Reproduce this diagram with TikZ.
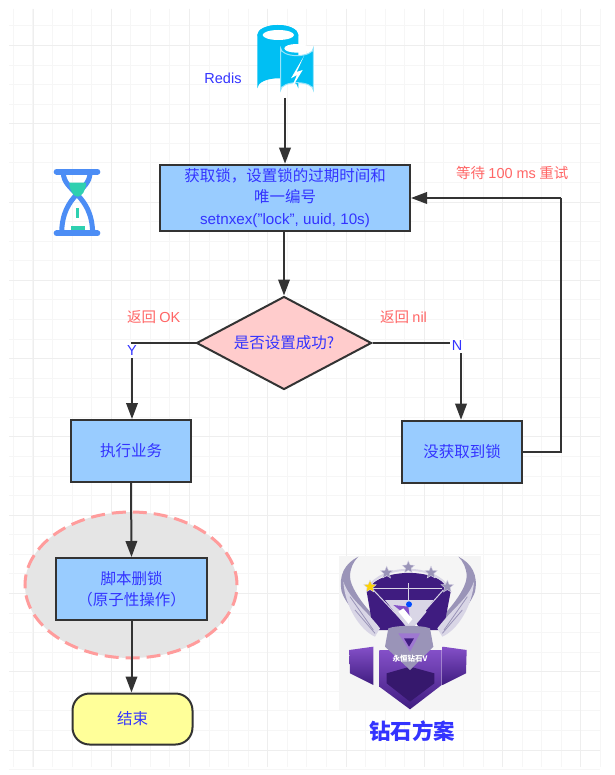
\documentclass[tikz,border=0pt]{standalone}
\usepackage{fontspec}
\setmainfont{Liberation Sans}
\newfontfamily\cjk{Noto Sans CJK SC}
\usetikzlibrary{arrows.meta,shapes.geometric}
\definecolor{gridminor}{HTML}{F6F6F6}
\definecolor{gridmajor}{HTML}{EEEEEE}
\definecolor{edge}{HTML}{333333}
\definecolor{boxblue}{HTML}{99CCFF}
\definecolor{txtblue}{HTML}{3333FF}
\definecolor{txtred}{HTML}{FF6666}
\definecolor{pinkfill}{HTML}{FFCCCC}
\definecolor{yellowfill}{HTML}{FFFF99}
\definecolor{redisblue}{HTML}{00BFF3}
\definecolor{glassblue}{HTML}{4C8DF5}
\definecolor{glassteal}{HTML}{2ED0B0}
\definecolor{medalbg}{HTML}{F5F5F5}
\definecolor{purpleA}{HTML}{8450C8}
\definecolor{purpleB}{HTML}{3F1C80}
\definecolor{silverA}{HTML}{D9D6E6}
\definecolor{silverB}{HTML}{9A94B8}
\tikzset{
  box/.style={draw=edge,line width=2pt,fill=boxblue,text=txtblue,align=center,inner sep=0pt,font=\fontsize{15.5}{21.5}\selectfont\cjk},
  conn/.style={draw=edge,line width=2pt},
  arr/.style={conn,-{Triangle[length=16pt,width=11.5pt,fill=edge]}},
  lab/.style={text=txtblue,font=\fontsize{14.5}{17}\selectfont,inner sep=0pt},
  redlab/.style={text=txtred,font=\fontsize{14.5}{17}\selectfont\cjk,inner sep=0pt,anchor=west},
}
\begin{document}
\begin{tikzpicture}[x=1pt,y=-1pt]
\useasboundingbox (0,0) rectangle (614,775);
\fill[white] (0,0) rectangle (614,775);
% grid
\foreach \i in {0,...,30}{
  \pgfmathsetmacro{\gx}{13.4+19.57*\i}
  \draw[gridminor,line width=1pt] (\gx,9) -- (\gx,767);
}
\foreach \i in {0,...,38}{
  \pgfmathsetmacro{\gy}{26+19.57*\i}
  \draw[gridminor,line width=1pt] (9,\gy) -- (600,\gy);
}
\foreach \i in {0,...,7}{
  \pgfmathsetmacro{\gx}{33+78.28*\i}
  \draw[gridmajor,line width=1pt] (\gx,9) -- (\gx,767);
}
\foreach \i in {0,...,9}{
  \pgfmathsetmacro{\gy}{45.5+78.28*\i}
  \draw[gridmajor,line width=1pt] (9,\gy) -- (600,\gy);
}
% dashed ellipse behind the script box
\node[ellipse,draw=txtred!65!white,fill=black!10,line width=3pt,dash pattern=on 14pt off 7pt,
  minimum width=212pt,minimum height=146pt,inner sep=0pt] (halo) at (131,585) {};
% Redis icon
\begin{scope}[shift={(180,10)},scale=1/3]
  \fill[redisblue] (232,75) arc[x radius=61.5,y radius=30,start angle=180,end angle=360]
     -- (355,235) arc[x radius=61.5,y radius=30,start angle=0,end angle=-180] -- cycle;
  \fill[redisblue] (293.5,75) ellipse[x radius=61.5,y radius=30];
  \fill[white] (295,75) ellipse[x radius=47,y radius=15];
  \filldraw[redisblue,draw=white!60!redisblue,line width=1pt] (302,115)
     arc[x radius=49,y radius=22,start angle=180,end angle=0]
     -- (400,240) arc[x radius=49,y radius=22,start angle=0,end angle=-180] -- cycle;
  \fill[white] (350,115) ellipse[x radius=37,y radius=13];
  \fill[white] (372,138) -- (333,205) -- (351,195) -- (330,243) -- (368,180) -- (350,186) -- cycle;
\end{scope}
\coordinate (redisbase) at (285,98);
\node[lab,text=txtblue] (redislabel) at (223,78.5) {Redis};
% hourglass
\begin{scope}[shift={(30,150)},scale=1/3]
  \draw[glassblue,line width=6pt,line cap=round] (80,65) -- (202,65);
  \draw[glassblue,line width=6pt,line cap=round] (80,250) -- (202,250);
  \draw[glassblue,line width=5pt] (100,68) .. controls (100,125) and (185,130) .. (188,248);
  \draw[glassblue,line width=5pt] (180,68) .. controls (180,125) and (97,130) .. (95,248);
  \fill[glassteal] (118,98) -- (168,98) .. controls (168,122) and (155,140) .. (143,140) .. controls (131,140) and (118,122) .. (118,98) -- cycle;
  \draw[glassteal,line width=2.5pt] (143,175) -- (143,205);
  \fill[glassteal] (123,229) rectangle (164,240);
\end{scope}
% main nodes
\node[box,minimum width=250pt,minimum height=66pt] (lock) at (285,197.7)
  {获取锁，设置锁的过期时间和\\唯一编号\\{\normalfont\fontsize{15.2}{21.5}\selectfont setnxex("lock", uuid, 10s)}};
\node[diamond,draw=edge,line width=2pt,fill=pinkfill,text=txtblue,aspect=1.88,inner sep=0pt,
  minimum width=175pt,minimum height=93pt,font=\fontsize{15.5}{18}\selectfont\cjk] (check) at (284,343) {是否设置成功?};
\node[box,minimum width=120pt,minimum height=62pt] (run) at (131,451) {执行业务};
\node[box,minimum width=120pt,minimum height=62pt] (fail) at (462,451.7) {没获取到锁};
\node[box,minimum width=151pt,minimum height=62pt] (script) at (131.5,589) {脚本删锁\\（原子性操作）};
\node[draw=edge,line width=2pt,fill=yellowfill,text=txtblue,rounded corners=17pt,inner sep=0pt,
  minimum width=120pt,minimum height=51pt,font=\fontsize{15.5}{18}\selectfont\cjk] (end) at (132.5,719) {结束};
% connectors
\coordinate (ycorner) at (132,343);
\coordinate (ncorner) at (461,343);
\coordinate (rtdown) at (561,452);
\coordinate (rtup) at (561,198);
\draw[arr] (redisbase) -- (lock.north -| redisbase);
\draw[arr] (lock.south -| check.north) -- (check.north);
\draw[arr] (check.west) -- (ycorner) -- (run.north -| ycorner);
\draw[arr] (check.east) -- (ncorner) -- (fail.north -| ncorner);
\draw[conn] (fail.east |- rtdown) -- (rtdown) -- (rtup);
\draw[arr] (rtup) -- (lock.east |- rtup);
\draw[arr] (run.south) -- (script.north);
\draw[arr] (script.south) -- (end.north -| script.south);
% edge labels
\node[lab,fill=white,inner sep=2pt,font=\fontsize{14.5}{17}\selectfont] (ylab) at (132,351) {Y};
\node[lab,fill=white,inner sep=2pt,font=\fontsize{14.5}{17}\selectfont] (nlab) at (457,346) {N};
\node[redlab] (ok) at (127,317) {返回 {\fontfamily{\rmdefault}\normalfont OK}};
\node[redlab] (nil) at (380,317) {返回 {\normalfont nil}};
\node[redlab] (retry) at (456,173) {等待 {\normalfont 100 ms} 重试};
% medal picture
\fill[medalbg] (339,556) rectangle (481,711);
\begin{scope}[shift={(330,550)},scale=1/3]
  % horns
  \fill[silverB] (85,20) .. controls (45,40) and (25,75) .. (35,125) .. controls (50,170) and (100,215) .. (150,240) -- (150,215) .. controls (100,170) and (60,110) .. (60,80) .. controls (60,55) and (70,35) .. (85,20) -- cycle;
  \fill[silverB] (385,20) .. controls (425,40) and (445,75) .. (435,125) .. controls (420,170) and (370,215) .. (320,240) -- (320,215) .. controls (370,170) and (410,110) .. (410,80) .. controls (410,55) and (400,35) .. (385,20) -- cycle;
  % ribbons
  \shade[top color=purpleA,bottom color=purpleB] (58,300) -- (60,370) -- (130,405) -- (130,290) -- cycle;
  \shade[top color=purpleA,bottom color=purpleB] (410,300) -- (408,370) -- (338,405) -- (338,290) -- cycle;
  \shade[top color=purpleA,bottom color=purpleB] (148,300) -- (148,410) -- (240,478) -- (335,405) -- (335,300) -- cycle;
  \fill[purpleB!85!black] (170,370) -- (170,400) -- (240,455) -- (313,400) -- (313,370) -- (240,350) -- cycle;
  % dark dome
  \fill[purpleB] (110,125) .. controls (140,50) and (335,50) .. (362,125) -- (340,240) -- (130,240) -- cycle;
  \draw[silverA,line width=2pt] (112,118) .. controls (150,40) and (320,40) .. (358,118);
  \draw[silverA,line width=1pt] (130,115) -- (335,115);
  \draw[silverA,line width=1pt] (235,100) -- (235,150);
  \draw[silverA,line width=1pt] (130,120) -- (215,210);
  \draw[silverA,line width=1pt] (340,120) -- (260,210);
  % wings
  \foreach \s/\o in {1/0,-1/472}{
    \begin{scope}[xshift=\o,xscale=\s]
      \fill[silverA] (40,95) .. controls (60,150) and (100,170) .. (150,235) -- (135,260) .. controls (90,240) and (45,170) .. (40,95) -- cycle;
      \draw[silverB,line width=.8pt] (60,140) -- (130,240);
      \draw[silverB,line width=.8pt] (75,180) -- (135,250);
    \end{scope}
  }
  % central emblem
  \fill[silverA] (165,150) -- (310,150) -- (240,245) -- cycle;
  \fill[purpleA] (190,165) -- (235,170) -- (240,205) -- cycle;
  \fill[white] (205,185) -- (220,175) -- (270,235) -- (255,245) -- cycle;
  \fill[silverA] (275,175) -- (290,185) -- (240,245) -- (225,235) -- cycle;
  \fill[blue!70!cyan] (237,163) circle[radius=9];
  % body
  \fill[silverB] (175,235) .. controls (200,225) and (275,225) .. (300,235) -- (310,290) -- (240,360) -- (165,290) -- cycle;
  \fill[purpleA!70!silverA] (205,250) -- (270,250) -- (240,305) -- cycle;
  \fill[purpleB] (222,265) -- (252,265) -- (237,290) -- cycle;
  % stars
  \foreach \n/\sx/\sy/\c in {a/120/110/yellow!70!orange,b/170/68/silverB,c/235/52/silverB,d/303/68/silverB,e/352/110/silverB}{
    \node[star,star points=5,star point ratio=2.2,fill=\c,draw=silverA,line width=.4pt,minimum size=13pt,inner sep=0pt] (star\n) at (\sx,\sy) {};
  }
  \node[text=white,font=\fontsize{7.5}{9}\selectfont\bfseries\cjk,inner sep=0pt] (medaltxt) at (240,325) {永恒钻石V};
\end{scope}
\node[text=txtblue,inner sep=0pt,font=\fontsize{21.5}{26}\selectfont\cjk\bfseries] (plan) at (412,731) {钻石方案};
\end{tikzpicture}
\end{document}
